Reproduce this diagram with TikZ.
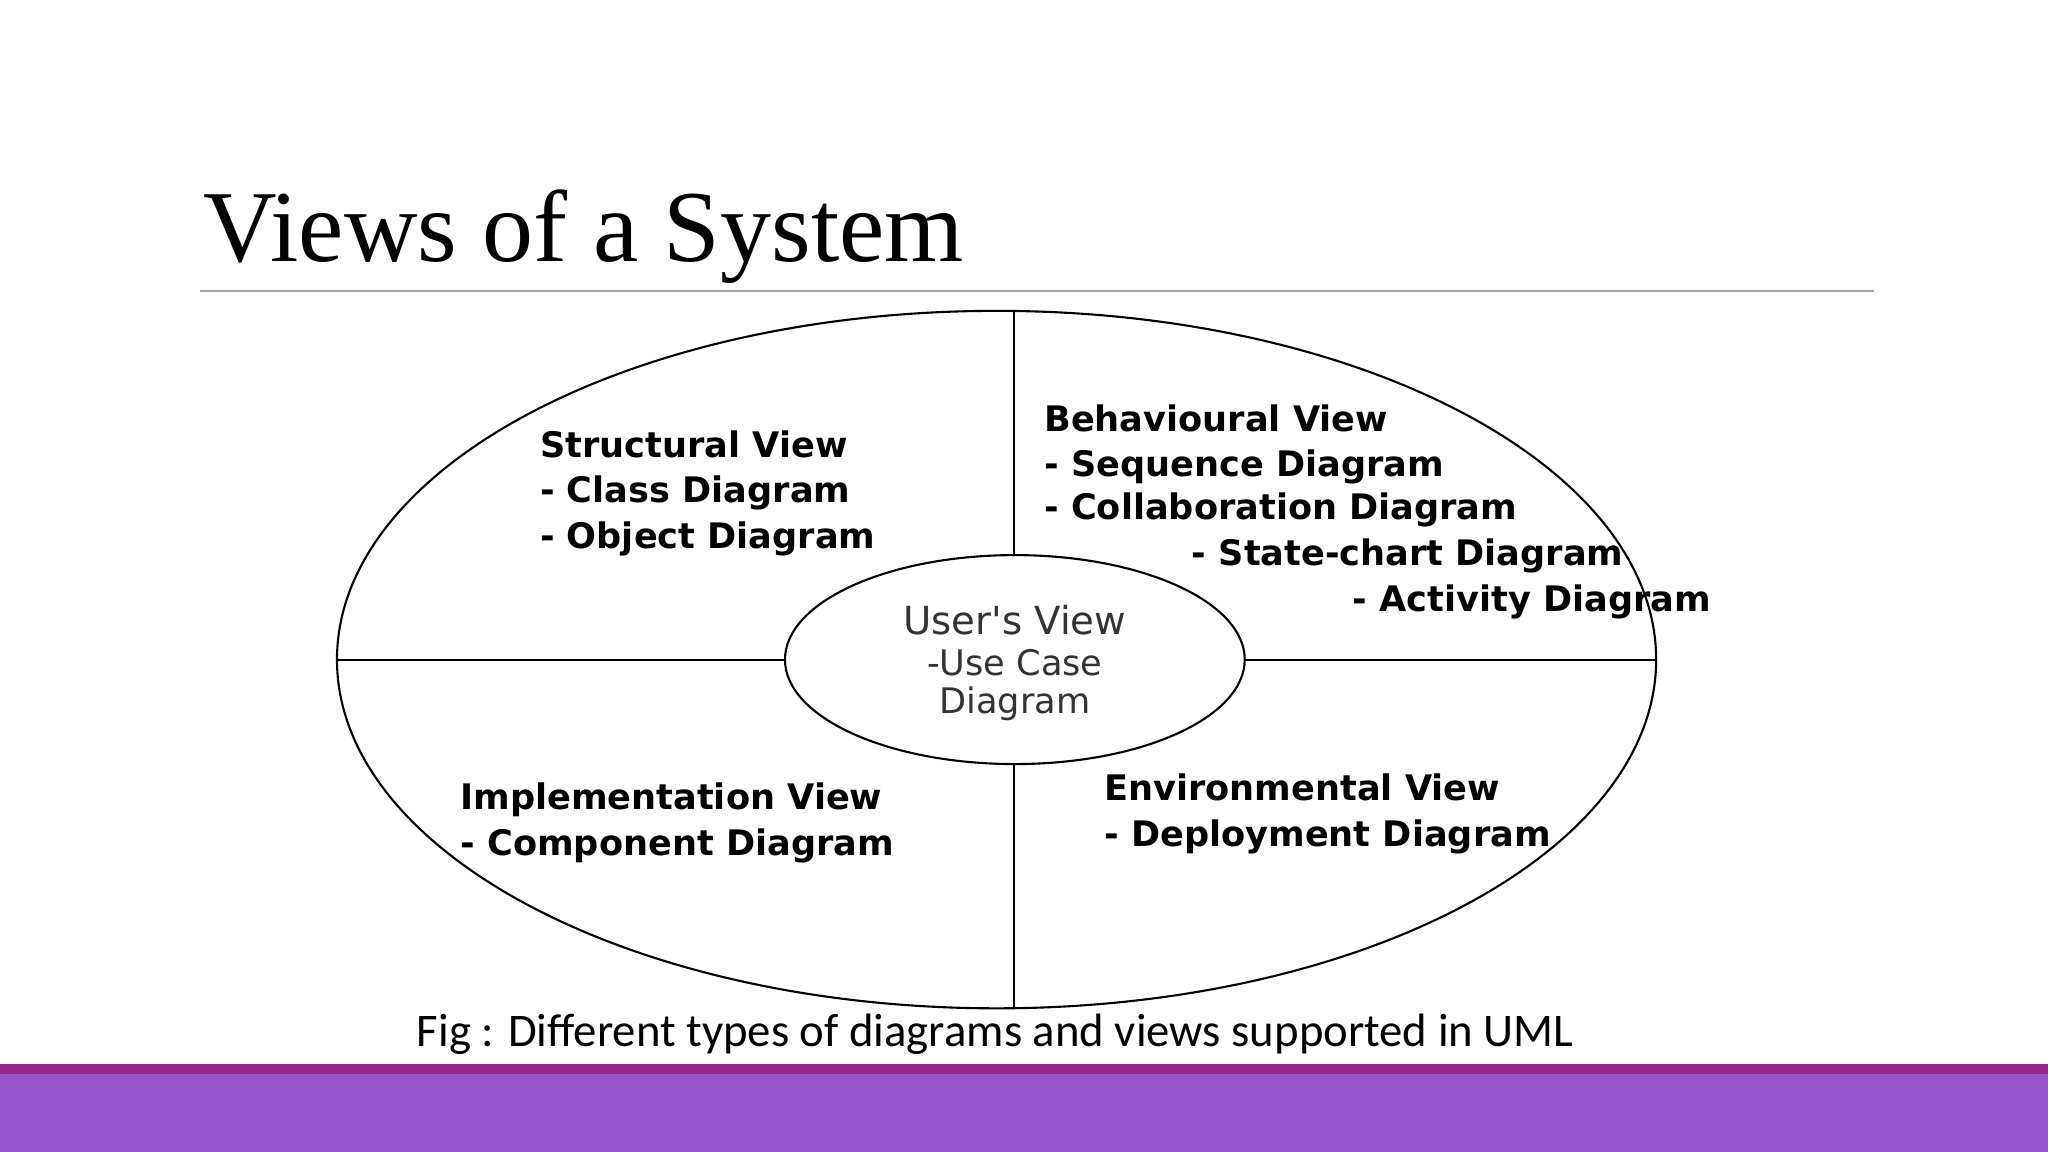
\documentclass[tikz,border=0pt]{standalone}
\usepackage{fontspec}
\usetikzlibrary{shapes.geometric}
\setmainfont{Liberation Serif}
\newfontfamily\capfnt{Carlito}
\newfontfamily\handfnt{DejaVu Sans}
\begin{document}
\begin{tikzpicture}[x=0.01306cm,y=-0.01306cm,
  lbl/.style={anchor=base west,inner sep=0,font=\handfnt\bfseries\fontsize{10pt}{12pt}\selectfont},
  usr/.style={anchor=base,inner sep=0,font=\handfnt\fontsize{10pt}{12pt}\selectfont,text=black!80}]
\useasboundingbox (0,0) rectangle (1568,882);
\fill[white] (0,0) rectangle (1568,882);
\node[anchor=base west,inner sep=0,font=\fontsize{29pt}{32pt}\selectfont] (title) at (155,200) {Views of a System};
\draw[black!35,line width=0.6pt] (153,223) -- (1435,223);
\node[draw,ellipse,minimum width=1010*0.01306cm,minimum height=534*0.01306cm,inner sep=0,line width=0.6pt] (outer) at (763,505) {};
\node[draw,ellipse,minimum width=352*0.01306cm,minimum height=160*0.01306cm,inner sep=0,line width=0.6pt,fill=white] (inner) at (777,505) {};
\draw[line width=0.6pt] (outer.west) -- (inner.west);
\draw[line width=0.6pt] (inner.east) -- (outer.east);
\draw[line width=0.6pt] (776,238) -- (776,425);
\draw[line width=0.6pt] (776,585) -- (776,772);
\node[lbl] (s1) at (413,350) {Structural View};
\node[lbl] (s2) at (413,385) {- Class Diagram};
\node[lbl] (s3) at (413,420) {- Object Diagram};
\node[lbl] (b1) at (799,330) {Behavioural View};
\node[lbl] (b2) at (799,365) {- Sequence Diagram};
\node[lbl] (b3) at (799,398) {- Collaboration Diagram};
\node[lbl] (b4) at (912,433) {- State-chart Diagram};
\node[lbl] (b5) at (1035,468) {- Activity Diagram};
\node[usr,font=\handfnt\fontsize{11pt}{12pt}\selectfont] (u1) at (777,486) {User's View};
\node[usr] (u2) at (777,517) {-Use Case};
\node[usr] (u3) at (777,546) {Diagram};
\node[lbl] (i1) at (352,620) {Implementation View};
\node[lbl] (i2) at (352,655) {- Component Diagram};
\node[lbl] (e1) at (845,613) {Environmental View};
\node[lbl] (e2) at (845,648) {- Deployment Diagram};
\node[anchor=base,inner sep=0,font=\capfnt\fontsize{13.3pt}{15pt}\selectfont] (fig) at (762,801) {Fig : Different types of diagrams and views supported in UML};
\fill[fill={rgb,255:red,153;green,85;blue,204}] (0,815) rectangle (1568,882);
\fill[fill={rgb,255:red,150;green,40;blue,140}] (0,815) rectangle (1568,822);
\end{tikzpicture}
\end{document}
